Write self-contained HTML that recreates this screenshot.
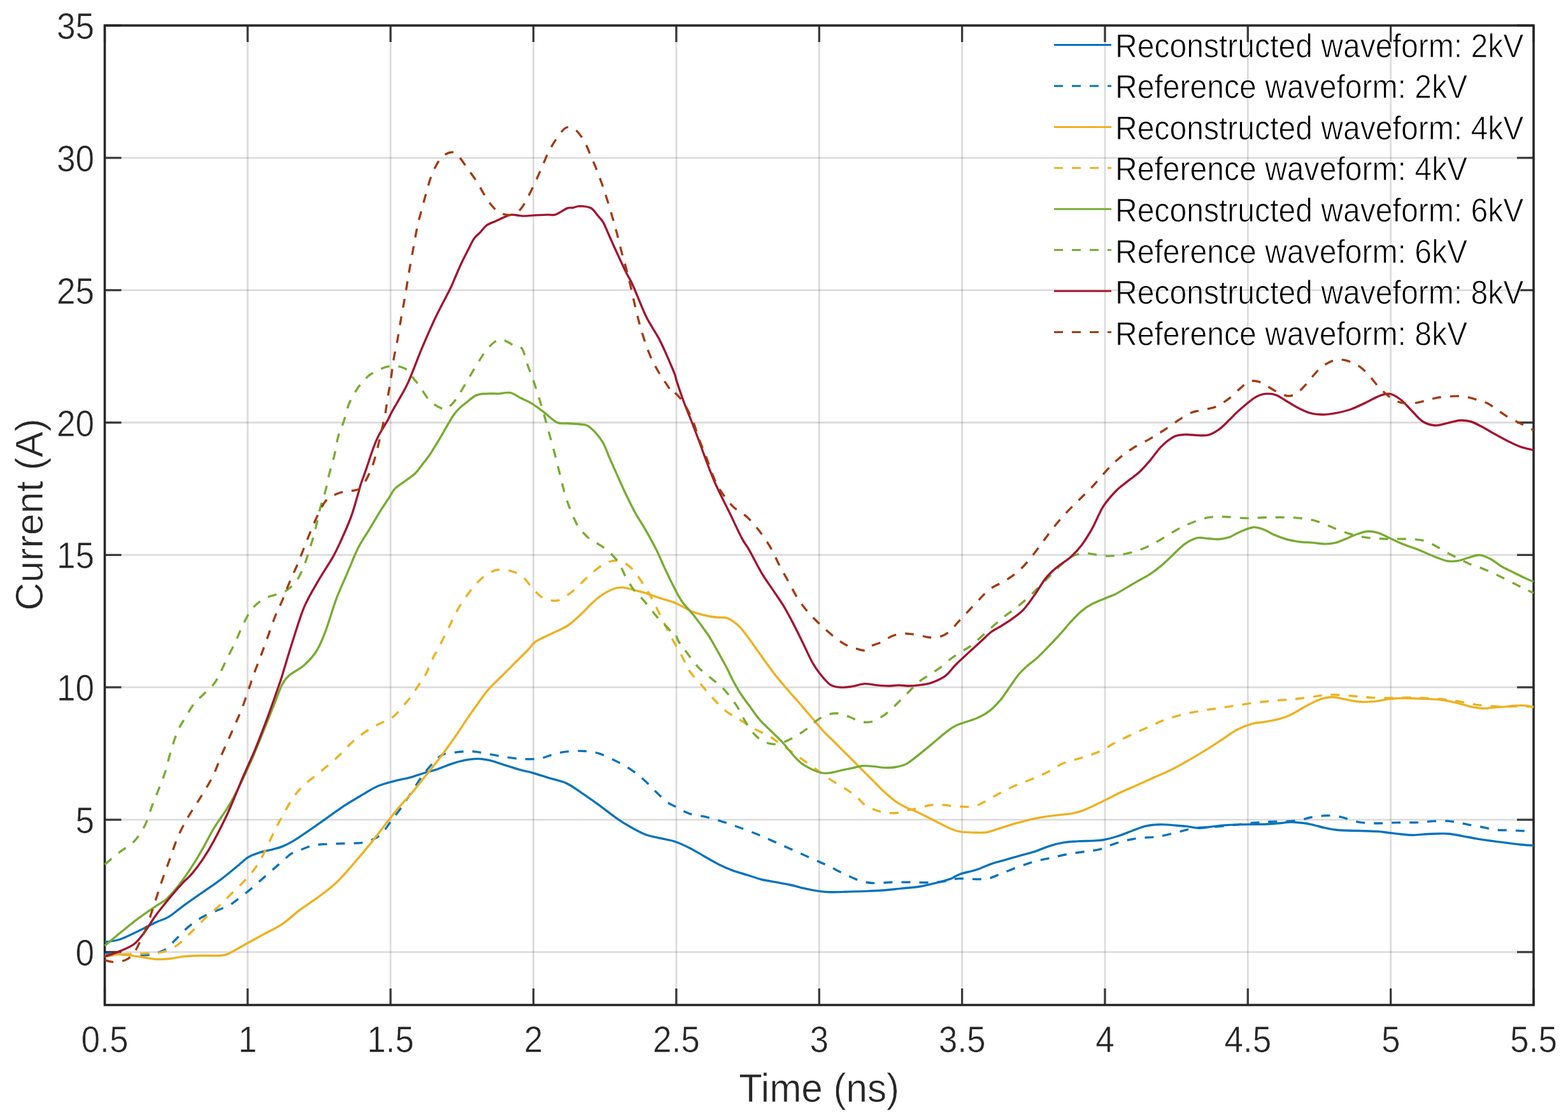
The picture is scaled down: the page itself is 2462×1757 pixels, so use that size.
<!DOCTYPE html>
<html><head><meta charset="utf-8"><title>Current waveforms</title>
<style>html,body{margin:0;padding:0;background:#fff;}svg{display:block;}</style></head>
<body>
<svg width="2462" height="1757" viewBox="0 0 2462 1757">
<rect width="2462" height="1757" fill="#ffffff"/>
<path d="M388.85 40.0V1578.0M613.20 40.0V1578.0M837.55 40.0V1578.0M1061.90 40.0V1578.0M1286.25 40.0V1578.0M1510.60 40.0V1578.0M1734.95 40.0V1578.0M1959.30 40.0V1578.0M2183.65 40.0V1578.0" stroke="#262626" stroke-opacity="0.16" stroke-width="2.8" fill="none"/>
<path d="M164.5 1494.86H2408.0M164.5 1287.03H2408.0M164.5 1079.19H2408.0M164.5 871.35H2408.0M164.5 663.51H2408.0M164.5 455.68H2408.0M164.5 247.84H2408.0" stroke="#262626" stroke-opacity="0.16" stroke-width="2.8" fill="none"/>
<path d="M164.50 1578.0v-26M164.50 40.0v26M388.85 1578.0v-26M388.85 40.0v26M613.20 1578.0v-26M613.20 40.0v26M837.55 1578.0v-26M837.55 40.0v26M1061.90 1578.0v-26M1061.90 40.0v26M1286.25 1578.0v-26M1286.25 40.0v26M1510.60 1578.0v-26M1510.60 40.0v26M1734.95 1578.0v-26M1734.95 40.0v26M1959.30 1578.0v-26M1959.30 40.0v26M2183.65 1578.0v-26M2183.65 40.0v26M2408.00 1578.0v-26M2408.00 40.0v26M164.5 1494.86h26M2408.0 1494.86h-26M164.5 1287.03h26M2408.0 1287.03h-26M164.5 1079.19h26M2408.0 1079.19h-26M164.5 871.35h26M2408.0 871.35h-26M164.5 663.51h26M2408.0 663.51h-26M164.5 455.68h26M2408.0 455.68h-26M164.5 247.84h26M2408.0 247.84h-26M164.5 40.00h26M2408.0 40.00h-26" stroke="#3a3a3a" stroke-width="3.3" fill="none"/>
<rect x="164.5" y="40.0" width="2243.5" height="1538.0" stroke="#262626" stroke-width="3.6" fill="none"/>
<defs><clipPath id="ax"><rect x="162" y="38" width="2248.5" height="1542"/></clipPath></defs><g clip-path="url(#ax)" fill="none" stroke-width="3.4" stroke-linejoin="round">
<path d="M164.5 1479.2C168.5 1478.5 179.6 1477.8 188.3 1475.0C197.0 1472.1 207.2 1466.7 216.7 1462.2C226.1 1457.7 236.9 1451.8 245.0 1448.1C253.0 1444.3 257.7 1443.8 264.8 1439.6C271.9 1435.3 279.0 1428.7 287.5 1422.6C296.0 1416.4 306.3 1409.3 315.8 1402.7C325.2 1396.1 334.7 1390.0 344.1 1382.9C353.6 1375.8 364.9 1366.4 372.4 1360.2C380.0 1354.1 383.8 1349.6 389.4 1346.1C395.1 1342.5 399.8 1341.1 406.4 1339.0C413.0 1336.9 423.0 1335.0 429.1 1333.3C435.2 1331.7 438.1 1331.2 443.3 1329.1C448.4 1327.0 453.2 1324.8 460.2 1320.6C467.3 1316.3 476.8 1309.7 485.7 1303.6C494.7 1297.5 504.6 1290.4 514.1 1283.8C523.5 1277.2 532.9 1270.1 542.4 1263.9C551.8 1257.8 562.2 1251.9 570.7 1246.9C579.2 1242.0 584.7 1237.8 593.4 1234.2C602.0 1230.6 614.5 1227.5 622.7 1225.4C630.8 1223.2 635.4 1223.0 642.5 1221.1C649.6 1219.2 658.1 1216.2 665.1 1214.0C672.2 1211.9 677.9 1210.7 685.0 1208.4C692.1 1206.0 700.6 1202.2 707.6 1199.9C714.7 1197.5 720.4 1195.6 727.5 1194.2C734.5 1192.8 743.0 1191.4 750.1 1191.4C757.2 1191.4 762.9 1192.5 770.0 1194.2C777.0 1195.9 785.1 1198.9 792.6 1201.3C800.2 1203.6 807.7 1206.2 815.3 1208.4C822.8 1210.5 830.4 1211.9 837.9 1214.0C845.5 1216.2 852.1 1218.5 860.6 1221.1C869.1 1223.7 880.4 1225.8 888.9 1229.6C897.4 1233.4 903.1 1238.1 911.6 1243.8C920.1 1249.4 930.5 1256.8 939.9 1263.6C949.3 1270.4 959.7 1278.9 968.2 1284.8C976.7 1290.7 983.3 1294.8 990.9 1299.0C998.4 1303.3 1006.0 1307.5 1013.5 1310.3C1021.1 1313.2 1028.5 1314.1 1036.2 1316.0C1043.9 1317.9 1052.3 1318.9 1060.0 1321.5C1067.7 1324.1 1075.1 1327.6 1082.7 1331.4C1090.2 1335.2 1097.8 1339.9 1105.3 1344.2C1112.9 1348.4 1120.4 1353.1 1128.0 1356.9C1135.5 1360.7 1143.1 1364.0 1150.6 1366.8C1158.2 1369.6 1165.7 1371.5 1173.3 1373.9C1180.9 1376.3 1188.4 1379.1 1196.0 1381.0C1203.5 1382.9 1211.1 1383.8 1218.6 1385.2C1226.2 1386.6 1233.7 1387.8 1241.3 1389.5C1248.8 1391.1 1256.4 1393.5 1263.9 1395.1C1271.5 1396.8 1280.0 1398.4 1286.6 1399.4C1293.2 1400.3 1296.5 1400.7 1303.6 1400.8C1310.7 1400.9 1320.1 1400.5 1329.1 1400.2C1338.1 1400.0 1348.0 1399.8 1357.4 1399.4C1366.9 1399.0 1376.3 1398.7 1385.7 1398.0C1395.2 1397.3 1404.6 1396.1 1414.1 1395.1C1423.5 1394.2 1434.4 1393.5 1442.4 1392.3C1450.4 1391.1 1456.1 1389.5 1462.2 1388.1C1468.4 1386.6 1474.0 1385.2 1479.2 1383.8C1484.4 1382.4 1488.7 1381.4 1493.4 1379.6C1498.1 1377.7 1500.8 1374.8 1507.5 1372.5C1514.3 1370.1 1525.8 1368.1 1534.0 1365.4C1542.2 1362.7 1549.1 1358.9 1556.7 1356.3C1564.2 1353.7 1571.8 1352.0 1579.3 1349.8C1586.9 1347.6 1594.4 1345.4 1602.0 1343.3C1609.5 1341.2 1617.1 1339.5 1624.6 1337.1C1632.2 1334.6 1639.7 1330.9 1647.3 1328.6C1654.8 1326.2 1662.4 1324.2 1670.0 1322.9C1677.5 1321.6 1685.1 1321.4 1692.6 1320.9C1700.2 1320.5 1708.7 1320.5 1715.3 1320.1C1721.9 1319.7 1725.7 1319.8 1732.3 1318.7C1738.9 1317.5 1747.4 1315.4 1754.9 1313.0C1762.5 1310.6 1770.5 1307.1 1777.6 1304.5C1784.7 1301.9 1791.7 1299.0 1797.4 1297.4C1803.1 1295.9 1806.9 1295.6 1811.6 1295.1C1816.3 1294.7 1820.1 1294.4 1825.7 1294.6C1831.4 1294.7 1839.4 1295.5 1845.6 1296.0C1851.7 1296.5 1856.4 1296.7 1862.6 1297.4C1868.7 1298.1 1876.7 1300.0 1882.4 1300.2C1888.1 1300.5 1891.4 1299.4 1896.6 1298.8C1901.7 1298.2 1907.4 1297.2 1913.5 1296.6C1919.7 1296.0 1924.5 1295.5 1933.4 1295.1C1942.3 1294.8 1958.6 1294.4 1967.0 1294.2C1975.4 1294.1 1977.4 1294.5 1984.0 1294.2C1990.6 1294.0 1999.6 1293.4 2006.7 1292.8C2013.7 1292.3 2020.3 1291.0 2026.5 1290.8C2032.6 1290.7 2037.8 1291.3 2043.5 1292.0C2049.1 1292.6 2054.3 1293.5 2060.5 1294.8C2066.6 1296.1 2073.7 1298.5 2080.3 1299.9C2086.9 1301.3 2093.5 1302.6 2100.1 1303.3C2106.7 1304.0 2112.9 1303.9 2120.0 1304.2C2127.0 1304.4 2135.1 1304.5 2142.6 1304.7C2150.2 1305.0 2158.7 1305.0 2165.3 1305.6C2171.9 1306.1 2176.6 1307.1 2182.3 1307.8C2187.9 1308.5 2193.1 1309.2 2199.3 1309.8C2205.4 1310.4 2212.5 1311.2 2219.1 1311.2C2225.7 1311.2 2232.3 1310.2 2238.9 1309.8C2245.5 1309.4 2252.6 1309.1 2258.7 1309.0C2264.9 1308.9 2269.6 1308.6 2275.7 1309.2C2281.9 1309.9 2288.5 1311.4 2295.6 1312.6C2302.6 1313.9 2310.7 1315.6 2318.2 1316.9C2325.8 1318.2 2333.3 1319.3 2340.9 1320.3C2348.4 1321.3 2356.0 1322.2 2363.5 1323.1C2371.1 1324.1 2378.8 1325.2 2386.2 1326.0C2393.6 1326.7 2404.4 1327.4 2408.0 1327.7" stroke="#0072BD"/>
<path d="M164.5 1497.6C168.5 1497.9 177.3 1498.7 188.3 1499.0C199.4 1499.4 220.4 1500.3 230.8 1499.6C241.2 1498.9 245.4 1496.5 250.6 1494.8C255.8 1493.0 258.2 1492.0 262.0 1489.1C265.7 1486.3 267.6 1483.5 273.3 1477.8C279.0 1472.1 288.4 1461.5 296.0 1455.1C303.5 1448.8 310.6 1444.0 318.6 1439.6C326.6 1435.1 337.5 1431.1 344.1 1428.2C350.7 1425.4 353.6 1425.2 358.3 1422.6C363.0 1420.0 366.8 1416.9 372.4 1412.6C378.1 1408.4 385.2 1403.0 392.3 1397.1C399.3 1391.2 407.4 1383.9 414.9 1377.2C422.5 1370.6 430.5 1363.6 437.6 1357.4C444.7 1351.3 451.7 1344.2 457.4 1340.4C463.1 1336.6 466.9 1336.6 471.6 1334.8C476.3 1332.9 481.0 1330.5 485.7 1329.1C490.5 1327.7 492.8 1327.0 499.9 1326.3C507.0 1325.5 518.8 1325.2 528.2 1324.8C537.7 1324.5 549.5 1324.3 556.6 1324.0C563.6 1323.7 566.0 1323.8 570.7 1322.9C575.4 1321.9 580.2 1320.6 584.9 1318.3C589.6 1316.1 594.2 1314.1 599.0 1309.3C603.9 1304.4 608.8 1296.2 614.2 1289.1C619.5 1281.9 625.5 1274.5 631.2 1266.4C636.8 1258.4 642.5 1249.4 648.2 1240.9C653.8 1232.4 659.0 1223.5 665.1 1215.4C671.3 1207.4 679.8 1198.0 685.0 1192.8C690.2 1187.6 691.6 1186.2 696.3 1184.3C701.0 1182.4 706.7 1182.3 713.3 1181.5C719.9 1180.7 729.8 1179.6 736.0 1179.5C742.1 1179.4 744.5 1180.1 750.1 1180.9C755.8 1181.7 762.9 1183.0 770.0 1184.3C777.0 1185.6 785.1 1187.4 792.6 1188.5C800.2 1189.7 808.2 1190.8 815.3 1191.4C822.4 1191.9 829.0 1192.2 835.1 1191.9C841.2 1191.7 846.4 1191.2 852.1 1190.0C857.8 1188.7 863.4 1185.8 869.1 1184.3C874.8 1182.7 879.9 1181.5 886.1 1180.6C892.2 1179.8 900.2 1179.4 905.9 1179.2C911.6 1179.0 914.4 1178.9 920.1 1179.5C925.7 1180.1 932.8 1180.7 939.9 1182.9C947.0 1185.1 956.0 1189.7 962.6 1192.8C969.2 1195.9 973.9 1198.0 979.6 1201.3C985.2 1204.6 990.9 1208.4 996.6 1212.6C1002.2 1216.9 1007.9 1221.6 1013.5 1226.8C1019.2 1232.0 1024.9 1238.3 1030.5 1243.8C1036.2 1249.2 1042.6 1255.6 1047.5 1259.3C1052.4 1263.1 1054.1 1263.2 1060.0 1266.3C1065.9 1269.3 1074.2 1274.8 1082.7 1277.6C1091.2 1280.4 1101.5 1280.9 1111.0 1283.3C1120.4 1285.6 1129.9 1288.7 1139.3 1291.7C1148.8 1294.8 1158.7 1298.4 1167.6 1301.7C1176.6 1305.0 1184.6 1308.0 1193.1 1311.6C1201.6 1315.1 1210.1 1319.1 1218.6 1322.9C1227.1 1326.7 1235.1 1330.2 1244.1 1334.2C1253.1 1338.2 1263.5 1343.0 1272.4 1347.0C1281.4 1351.0 1289.4 1354.3 1297.9 1358.3C1306.4 1362.3 1314.9 1367.0 1323.4 1371.1C1331.9 1375.1 1340.9 1379.8 1348.9 1382.4C1356.9 1385.0 1363.1 1386.2 1371.6 1386.6C1380.1 1387.1 1390.5 1385.5 1399.9 1385.2C1409.3 1385.0 1419.7 1385.1 1428.2 1385.2C1436.7 1385.3 1443.8 1385.8 1450.9 1385.8C1458.0 1385.8 1464.1 1385.8 1470.7 1385.2C1477.3 1384.7 1484.9 1383.3 1490.5 1382.4C1496.2 1381.4 1498.4 1379.9 1504.7 1379.6C1511.0 1379.2 1520.6 1380.4 1528.3 1380.4C1536.0 1380.4 1543.4 1381.1 1551.0 1379.6C1558.5 1378.0 1565.6 1374.1 1573.6 1371.1C1581.7 1368.0 1590.6 1364.2 1599.1 1361.1C1607.6 1358.1 1616.1 1355.0 1624.6 1352.6C1633.1 1350.3 1641.6 1348.9 1650.1 1347.0C1658.6 1345.1 1666.6 1343.0 1675.6 1341.3C1684.6 1339.7 1695.4 1338.3 1703.9 1337.1C1712.4 1335.8 1720.0 1335.3 1726.6 1333.7C1733.2 1332.0 1737.0 1329.4 1743.6 1327.2C1750.2 1324.9 1758.7 1322.0 1766.3 1320.1C1773.8 1318.2 1781.4 1316.8 1788.9 1315.8C1796.5 1314.9 1805.0 1315.1 1811.6 1314.4C1818.2 1313.7 1821.5 1313.1 1828.6 1311.6C1835.7 1310.1 1847.5 1307.0 1854.1 1305.3C1860.7 1303.7 1864.0 1302.6 1868.2 1301.7C1872.5 1300.7 1874.8 1300.2 1879.6 1299.7C1884.3 1299.2 1889.0 1299.3 1896.6 1298.8C1904.1 1298.4 1913.1 1298.0 1924.9 1296.8C1936.6 1295.7 1955.7 1293.1 1967.0 1292.0C1978.3 1290.9 1983.0 1290.7 1992.5 1290.3C2001.9 1289.8 2015.1 1289.9 2023.6 1289.4C2032.1 1288.9 2037.8 1288.1 2043.5 1287.2C2049.1 1286.2 2052.0 1284.5 2057.6 1283.5C2063.3 1282.4 2072.3 1281.4 2077.5 1280.9C2082.7 1280.5 2084.1 1280.3 2088.8 1280.6C2093.5 1281.0 2100.6 1281.8 2105.8 1282.9C2111.0 1284.0 2114.8 1285.7 2120.0 1287.2C2125.1 1288.6 2130.3 1290.5 2136.9 1291.4C2143.6 1292.3 2152.1 1292.7 2159.6 1292.8C2167.2 1292.9 2174.7 1292.2 2182.3 1292.0C2189.8 1291.7 2197.4 1291.5 2204.9 1291.4C2212.5 1291.3 2220.0 1291.7 2227.6 1291.4C2235.1 1291.1 2242.7 1289.8 2250.2 1289.4C2257.8 1289.0 2266.3 1288.8 2272.9 1289.1C2279.5 1289.5 2284.2 1290.4 2289.9 1291.4C2295.6 1292.4 2300.8 1293.9 2306.9 1295.1C2313.0 1296.3 2320.1 1297.2 2326.7 1298.5C2333.3 1299.8 2339.9 1301.9 2346.6 1302.7C2353.2 1303.6 2359.8 1303.3 2366.4 1303.6C2373.0 1303.9 2380.5 1304.2 2386.2 1304.4C2391.9 1304.7 2396.7 1304.9 2400.4 1305.0C2404.0 1305.1 2406.7 1305.0 2408.0 1305.0" stroke="#0072BD" stroke-dasharray="14 14"/>
<path d="M164.5 1500.5C168.5 1500.1 179.6 1498.2 188.3 1498.5C197.0 1498.7 207.2 1500.6 216.7 1501.9C226.1 1503.1 236.5 1505.6 245.0 1506.1C253.5 1506.7 260.6 1506.0 267.6 1505.3C274.7 1504.6 279.4 1502.7 287.5 1501.9C295.5 1501.1 306.3 1500.7 315.8 1500.5C325.2 1500.2 337.0 1500.9 344.1 1500.5C351.2 1500.0 351.2 1500.7 358.3 1497.6C365.4 1494.6 377.2 1487.2 386.6 1482.0C396.0 1476.9 405.5 1471.7 414.9 1466.5C424.4 1461.3 433.8 1457.3 443.3 1450.9C452.7 1444.5 462.1 1435.3 471.6 1428.2C481.0 1421.1 490.5 1415.5 499.9 1408.4C509.3 1401.3 518.8 1394.7 528.2 1385.7C537.7 1376.8 547.1 1365.4 556.6 1354.6C566.0 1343.7 573.9 1334.3 584.9 1320.6C595.9 1306.8 612.6 1284.4 622.7 1272.1C632.7 1259.8 637.8 1255.6 645.3 1246.6C652.9 1237.6 660.4 1227.7 668.0 1218.3C675.5 1208.8 683.1 1199.9 690.6 1190.0C698.2 1180.0 706.2 1168.9 713.3 1158.8C720.4 1148.6 727.0 1138.0 733.1 1129.1C739.3 1120.1 744.5 1112.8 750.1 1105.0C755.8 1097.2 761.0 1089.4 767.1 1082.3C773.3 1075.2 779.9 1069.6 786.9 1062.5C794.0 1055.4 802.5 1046.9 809.6 1039.8C816.7 1032.7 824.2 1025.4 829.4 1020.0C834.6 1014.6 834.2 1012.0 840.8 1007.5C847.4 1003.1 860.6 997.6 869.1 993.4C877.6 989.1 884.7 986.8 891.7 982.0C898.8 977.3 905.4 970.7 911.6 965.0C917.7 959.4 922.9 953.2 928.6 948.1C934.2 942.9 939.4 937.9 945.6 933.9C951.7 929.9 959.7 925.9 965.4 924.0C971.1 922.1 974.4 922.1 979.6 922.6C984.7 923.0 990.9 925.4 996.6 926.8C1002.2 928.2 1007.4 929.2 1013.5 931.1C1019.7 932.9 1027.7 936.3 1033.4 938.1C1039.0 940.0 1043.1 941.0 1047.5 942.4C1052.0 943.8 1055.6 944.7 1060.0 946.6C1064.4 948.5 1069.4 951.4 1074.2 953.7C1078.9 956.1 1082.7 958.7 1088.3 960.8C1094.0 962.9 1102.0 965.0 1108.2 966.5C1114.3 967.9 1119.5 968.6 1125.1 969.3C1130.8 970.0 1136.5 968.6 1142.1 970.7C1147.8 972.8 1153.9 977.3 1159.1 982.0C1164.3 986.8 1165.7 989.0 1173.3 999.0C1180.9 1009.1 1196.4 1031.5 1204.5 1042.5C1212.5 1053.5 1215.8 1058.1 1221.5 1065.1C1227.1 1072.2 1232.3 1077.9 1238.4 1085.0C1244.6 1092.1 1252.1 1100.6 1258.3 1107.6C1264.4 1114.7 1269.6 1120.9 1275.3 1127.5C1280.9 1134.1 1286.6 1141.2 1292.3 1147.3C1297.9 1153.4 1303.6 1158.6 1309.3 1164.3C1314.9 1170.0 1320.6 1175.6 1326.3 1181.3C1331.9 1186.9 1338.1 1193.1 1343.3 1198.3C1348.4 1203.5 1352.7 1207.7 1357.4 1212.4C1362.1 1217.2 1366.4 1221.4 1371.6 1226.6C1376.8 1231.8 1382.9 1238.4 1388.6 1243.6C1394.2 1248.8 1399.9 1253.7 1405.6 1257.8C1411.2 1261.8 1416.9 1264.8 1422.6 1267.7C1428.2 1270.5 1433.9 1272.2 1439.6 1274.8C1445.2 1277.4 1450.9 1280.4 1456.6 1283.3C1462.2 1286.1 1467.9 1288.9 1473.5 1291.7C1479.2 1294.6 1484.9 1297.9 1490.5 1300.2C1496.2 1302.6 1500.3 1304.7 1507.5 1305.9C1514.8 1307.1 1526.7 1307.2 1534.0 1307.3C1541.2 1307.4 1544.8 1307.7 1551.0 1306.5C1557.1 1305.3 1562.8 1302.7 1570.8 1300.2C1578.8 1297.8 1589.7 1294.3 1599.1 1291.7C1608.6 1289.2 1618.0 1286.6 1627.5 1284.7C1636.9 1282.8 1646.8 1281.6 1655.8 1280.4C1664.8 1279.2 1674.2 1278.8 1681.3 1277.6C1688.4 1276.4 1691.7 1275.7 1698.3 1273.3C1704.9 1271.0 1713.9 1266.7 1720.9 1263.4C1728.0 1260.1 1734.2 1256.8 1740.8 1253.5C1747.4 1250.2 1753.5 1246.9 1760.6 1243.6C1767.7 1240.3 1774.8 1237.5 1783.3 1233.7C1791.7 1229.9 1802.1 1225.2 1811.6 1220.9C1821.0 1216.7 1830.5 1212.9 1839.9 1208.2C1849.3 1203.5 1858.8 1198.0 1868.2 1192.6C1877.7 1187.2 1887.1 1181.5 1896.6 1175.6C1906.0 1169.7 1917.3 1162.2 1924.9 1157.2C1932.4 1152.2 1934.9 1149.4 1941.9 1145.9C1948.9 1142.4 1959.5 1138.3 1967.0 1136.2C1974.5 1134.1 1980.2 1134.5 1986.8 1133.3C1993.4 1132.2 2000.5 1131.0 2006.7 1129.4C2012.8 1127.8 2018.0 1126.2 2023.6 1123.7C2029.3 1121.2 2035.0 1117.5 2040.6 1114.4C2046.3 1111.3 2052.0 1107.9 2057.6 1105.0C2063.3 1102.2 2069.0 1099.1 2074.6 1097.4C2080.3 1095.6 2086.0 1094.5 2091.6 1094.5C2097.3 1094.5 2103.0 1096.3 2108.6 1097.4C2114.3 1098.4 2120.0 1100.0 2125.6 1100.8C2131.3 1101.6 2136.9 1102.1 2142.6 1102.2C2148.3 1102.2 2153.9 1101.7 2159.6 1101.1C2165.3 1100.4 2170.9 1099.0 2176.6 1098.2C2182.3 1097.5 2187.0 1096.8 2193.6 1096.5C2200.2 1096.2 2208.7 1096.4 2216.3 1096.5C2223.8 1096.7 2231.4 1097.0 2238.9 1097.4C2246.5 1097.8 2255.0 1098.1 2261.6 1098.8C2268.2 1099.5 2272.9 1100.4 2278.6 1101.6C2284.2 1102.8 2289.9 1104.5 2295.6 1105.9C2301.2 1107.3 2306.9 1109.0 2312.6 1110.1C2318.2 1111.2 2323.9 1112.3 2329.6 1112.4C2335.2 1112.5 2340.9 1111.2 2346.6 1110.7C2352.2 1110.2 2357.9 1110.0 2363.5 1109.6C2369.2 1109.1 2375.3 1108.1 2380.5 1107.9C2385.7 1107.6 2390.1 1107.5 2394.7 1107.9C2399.3 1108.2 2405.8 1109.7 2408.0 1110.1" stroke="#EDB120"/>
<path d="M164.5 1501.9C168.5 1501.4 179.6 1499.7 188.3 1499.0C197.0 1498.3 207.2 1498.1 216.7 1497.6C226.1 1497.2 237.9 1496.9 245.0 1496.2C252.1 1495.5 253.5 1495.5 259.1 1493.4C264.8 1491.2 271.9 1488.7 279.0 1483.5C286.0 1478.3 294.1 1469.5 301.6 1462.2C309.2 1454.9 317.2 1446.2 324.3 1439.6C331.4 1432.9 337.5 1428.7 344.1 1422.6C350.7 1416.4 356.9 1409.8 363.9 1402.7C371.0 1395.7 379.5 1388.1 386.6 1380.1C393.7 1372.0 400.3 1364.5 406.4 1354.6C412.6 1344.7 417.8 1331.9 423.4 1320.6C429.1 1309.3 434.3 1297.9 440.4 1286.6C446.6 1275.3 454.1 1261.6 460.2 1252.6C466.4 1243.6 470.6 1239.2 477.2 1232.8C483.9 1226.4 491.4 1221.5 499.9 1214.4C508.4 1207.3 518.8 1199.0 528.2 1190.3C537.7 1181.6 547.1 1170.0 556.6 1162.0C566.0 1153.9 576.2 1147.4 584.9 1142.1C593.5 1136.9 602.7 1133.6 608.5 1130.5C614.3 1127.3 616.1 1126.7 619.8 1123.4C623.6 1120.1 626.9 1115.6 631.2 1110.6C635.4 1105.7 641.1 1099.3 645.3 1093.6C649.6 1088.0 652.9 1082.3 656.7 1076.7C660.4 1071.0 663.7 1067.7 668.0 1059.7C672.2 1051.6 679.3 1034.4 682.1 1028.5C685.0 1022.6 683.6 1026.8 685.0 1024.2C686.4 1021.7 687.3 1019.8 690.6 1013.2C693.9 1006.6 700.1 994.3 704.8 984.9C709.5 975.4 713.8 965.5 719.0 956.6C724.2 947.6 730.3 938.6 736.0 931.1C741.6 923.5 747.3 916.7 753.0 911.2C758.6 905.8 764.8 901.3 770.0 898.5C775.1 895.7 778.4 894.5 784.1 894.2C789.8 894.0 797.8 895.2 803.9 897.1C810.1 899.0 815.7 901.3 820.9 905.6C826.1 909.8 830.4 917.4 835.1 922.6C839.8 927.8 844.5 933.4 849.3 936.7C854.0 940.0 858.7 941.4 863.4 942.4C868.1 943.3 872.9 943.8 877.6 942.4C882.3 941.0 887.0 937.2 891.7 933.9C896.5 930.6 900.7 927.3 905.9 922.6C911.1 917.8 917.2 910.8 922.9 905.6C928.6 900.4 934.7 895.2 939.9 891.4C945.1 887.6 949.3 884.8 954.1 882.9C958.8 881.0 964.0 880.1 968.2 880.1C972.5 880.1 975.3 880.5 979.6 882.9C983.8 885.3 989.9 890.5 993.7 894.2C997.5 898.0 998.9 900.8 1002.2 905.6C1005.5 910.3 1009.8 916.4 1013.5 922.6C1017.3 928.7 1021.6 936.3 1024.9 942.4C1028.2 948.5 1030.5 953.7 1033.4 959.4C1036.2 965.0 1038.6 969.8 1041.9 976.4C1045.2 983.0 1048.3 989.9 1053.2 999.0C1058.1 1008.2 1066.4 1022.0 1071.3 1031.2C1076.2 1040.3 1077.9 1046.7 1082.7 1053.8C1087.4 1060.9 1094.0 1067.0 1099.7 1073.6C1105.3 1080.3 1110.0 1086.4 1116.7 1093.5C1123.3 1100.6 1131.8 1110.0 1139.3 1116.1C1146.9 1122.3 1154.4 1125.6 1162.0 1130.3C1169.5 1135.0 1177.1 1140.2 1184.6 1144.5C1192.2 1148.7 1200.7 1152.0 1207.3 1155.8C1213.9 1159.6 1218.1 1162.9 1224.3 1167.1C1230.4 1171.4 1237.5 1176.6 1244.1 1181.3C1250.7 1186.0 1257.3 1190.7 1263.9 1195.4C1270.6 1200.2 1277.2 1204.9 1283.8 1209.6C1290.4 1214.3 1296.5 1219.0 1303.6 1223.8C1310.7 1228.5 1319.6 1233.7 1326.3 1237.9C1332.9 1242.2 1338.1 1245.0 1343.3 1249.3C1348.4 1253.5 1352.2 1259.6 1357.4 1263.4C1362.6 1267.2 1368.7 1269.8 1374.4 1271.9C1380.1 1274.0 1385.7 1275.5 1391.4 1276.2C1397.1 1276.9 1402.7 1276.9 1408.4 1276.2C1414.1 1275.5 1419.7 1273.1 1425.4 1271.9C1431.1 1270.7 1436.3 1270.4 1442.4 1269.1C1448.5 1267.8 1455.6 1264.8 1462.2 1264.0C1468.8 1263.1 1475.4 1263.6 1482.0 1264.0C1488.7 1264.4 1494.2 1265.9 1501.9 1266.3C1509.6 1266.6 1521.1 1267.4 1528.3 1266.3C1535.6 1265.1 1538.7 1262.5 1545.3 1259.2C1551.9 1255.9 1560.0 1250.7 1568.0 1246.4C1576.0 1242.2 1585.0 1237.5 1593.5 1233.7C1602.0 1229.9 1610.5 1227.3 1619.0 1223.8C1627.5 1220.2 1636.0 1216.7 1644.5 1212.4C1653.0 1208.2 1661.0 1202.1 1670.0 1198.3C1678.9 1194.5 1688.8 1192.8 1698.3 1189.8C1707.7 1186.7 1718.1 1183.6 1726.6 1179.9C1735.1 1176.1 1741.2 1171.4 1749.3 1167.1C1757.3 1162.9 1765.8 1158.6 1774.8 1154.4C1783.7 1150.1 1794.1 1145.6 1803.1 1141.6C1812.0 1137.6 1819.6 1133.6 1828.6 1130.3C1837.5 1127.0 1847.5 1124.2 1856.9 1121.8C1866.3 1119.4 1875.8 1117.8 1885.2 1116.1C1894.7 1114.5 1904.1 1113.3 1913.5 1111.9C1923.0 1110.5 1932.0 1109.1 1941.9 1107.6C1951.7 1106.2 1962.8 1104.3 1972.7 1103.0C1982.5 1101.8 1991.5 1101.1 2001.0 1100.2C2010.4 1099.4 2019.9 1098.9 2029.3 1097.9C2038.8 1097.0 2049.6 1095.6 2057.6 1094.5C2065.7 1093.5 2071.3 1092.3 2077.5 1091.7C2083.6 1091.1 2088.3 1090.8 2094.5 1090.9C2100.6 1090.9 2107.7 1091.5 2114.3 1092.0C2120.9 1092.5 2127.5 1093.1 2134.1 1093.7C2140.7 1094.3 2146.9 1095.0 2153.9 1095.4C2161.0 1095.8 2169.0 1096.0 2176.6 1096.0C2184.2 1096.0 2191.7 1095.5 2199.3 1095.4C2206.8 1095.3 2214.4 1095.2 2221.9 1095.4C2229.5 1095.6 2238.0 1096.2 2244.6 1096.5C2251.2 1096.9 2256.4 1096.9 2261.6 1097.4C2266.8 1097.8 2270.5 1098.7 2275.7 1099.4C2280.9 1100.1 2287.1 1100.7 2292.7 1101.6C2298.4 1102.6 2304.5 1104.1 2309.7 1105.0C2314.9 1106.0 2318.7 1106.7 2323.9 1107.3C2329.1 1107.9 2335.2 1108.3 2340.9 1108.7C2346.6 1109.1 2352.2 1109.5 2357.9 1109.6C2363.5 1109.7 2369.2 1109.4 2374.9 1109.3C2380.5 1109.2 2386.4 1108.8 2391.9 1109.0C2397.4 1109.1 2405.3 1109.9 2408.0 1110.1" stroke="#EDB120" stroke-dasharray="14 14"/>
<path d="M164.5 1484.9C168.5 1481.6 179.6 1472.1 188.3 1465.0C197.0 1458.0 207.2 1449.5 216.7 1442.4C226.1 1435.3 237.4 1427.8 245.0 1422.6C252.5 1417.4 255.8 1416.9 262.0 1411.2C268.1 1405.6 275.2 1397.1 281.8 1388.6C288.4 1380.1 295.5 1369.7 301.6 1360.2C307.8 1350.8 313.0 1341.8 318.6 1331.9C324.3 1322.0 329.0 1311.6 335.6 1300.8C342.2 1289.9 351.7 1277.6 358.3 1266.8C364.9 1255.9 369.1 1247.9 375.3 1235.6C381.4 1223.3 388.5 1208.2 395.1 1193.1C401.7 1178.0 408.8 1160.1 414.9 1145.0C421.1 1129.9 427.2 1114.3 431.9 1102.5C436.6 1090.7 439.5 1081.2 443.3 1074.2C447.0 1067.1 448.9 1064.9 454.6 1060.0C460.2 1055.1 470.2 1051.0 477.2 1044.7C484.3 1038.4 491.4 1031.0 497.1 1022.0C502.7 1013.1 506.0 1004.6 511.2 990.9C516.4 977.2 522.6 955.0 528.2 939.9C533.9 924.8 539.6 913.5 545.2 900.2C550.9 887.0 556.6 871.9 562.2 860.6C567.9 849.3 573.5 841.7 579.2 832.3C584.9 822.8 592.7 809.7 596.2 803.9C599.7 798.2 597.5 801.8 600.0 797.9C602.5 794.1 608.0 786.0 611.3 780.9C614.7 775.8 615.9 771.6 620.0 767.3C624.1 763.0 630.7 759.3 636.0 755.3C641.4 751.3 647.4 747.8 652.0 743.3C656.7 738.7 660.3 732.9 664.0 728.1C667.8 723.3 671.1 719.3 674.4 714.5C677.8 709.7 680.8 704.5 684.1 699.2C687.3 694.0 690.5 688.7 693.7 683.2C696.9 677.8 700.2 671.6 703.3 666.4C706.3 661.2 709.3 656.0 712.1 652.0C714.9 648.0 717.0 645.5 720.0 642.4C723.0 639.3 725.7 637.2 730.3 633.6C734.8 630.1 741.6 623.5 747.3 620.9C753.0 618.3 758.1 618.5 764.3 618.1C770.4 617.6 778.0 618.3 784.1 618.1C790.3 617.8 795.4 615.5 801.1 616.7C806.8 617.8 812.4 622.3 818.1 625.1C823.8 628.0 829.0 629.9 835.1 633.6C841.2 637.4 848.3 642.9 854.9 647.8C861.5 652.8 868.6 660.6 874.8 663.4C880.9 666.2 885.6 664.3 891.7 664.8C897.9 665.3 905.9 665.3 911.6 666.2C917.2 667.2 920.1 666.0 925.7 670.5C931.4 675.0 940.4 685.1 945.6 693.1C950.8 701.2 953.1 710.1 956.9 718.6C960.7 727.1 964.0 734.7 968.2 744.1C972.5 753.6 977.7 765.4 982.4 775.3C987.1 785.2 991.4 794.2 996.6 803.6C1001.7 813.0 1007.9 822.0 1013.5 831.9C1019.2 841.8 1025.3 852.7 1030.5 863.1C1035.7 873.5 1039.8 883.9 1044.7 894.2C1049.6 904.6 1055.6 916.9 1060.0 925.4C1064.4 933.9 1066.6 938.6 1071.3 945.2C1076.1 951.8 1082.7 958.0 1088.3 965.0C1094.0 972.1 1100.6 981.1 1105.3 987.7C1110.0 994.3 1111.0 995.1 1116.7 1004.7C1122.3 1014.3 1133.6 1034.8 1139.3 1045.3C1145.0 1055.9 1146.9 1060.9 1150.6 1068.0C1154.4 1075.1 1157.7 1081.2 1162.0 1087.8C1166.2 1094.4 1170.9 1100.6 1176.1 1107.6C1181.3 1114.7 1187.0 1123.2 1193.1 1130.3C1199.3 1137.4 1206.8 1144.0 1213.0 1150.1C1219.1 1156.3 1224.8 1161.5 1230.0 1167.1C1235.1 1172.8 1239.4 1178.9 1244.1 1184.1C1248.8 1189.3 1253.1 1194.3 1258.3 1198.3C1263.5 1202.3 1269.6 1205.6 1275.3 1208.2C1280.9 1210.8 1287.1 1213.1 1292.3 1213.9C1297.5 1214.7 1301.7 1213.7 1306.4 1213.0C1311.1 1212.3 1315.4 1210.7 1320.6 1209.6C1325.8 1208.5 1331.9 1207.4 1337.6 1206.2C1343.3 1205.0 1348.9 1203.0 1354.6 1202.5C1360.2 1202.1 1365.9 1202.9 1371.6 1203.4C1377.2 1203.8 1382.9 1205.2 1388.6 1205.4C1394.2 1205.5 1399.9 1205.5 1405.6 1204.5C1411.2 1203.6 1417.4 1202.1 1422.6 1199.7C1427.8 1197.2 1432.0 1193.3 1436.7 1189.8C1441.4 1186.2 1445.7 1182.7 1450.9 1178.4C1456.1 1174.2 1462.2 1169.0 1467.9 1164.3C1473.5 1159.6 1479.2 1154.4 1484.9 1150.1C1490.5 1145.9 1493.7 1142.6 1501.9 1138.8C1510.1 1135.0 1525.3 1131.2 1534.0 1127.5C1542.6 1123.7 1547.7 1120.9 1553.8 1116.1C1560.0 1111.4 1565.6 1105.3 1570.8 1099.1C1576.0 1093.0 1580.3 1085.9 1585.0 1079.3C1589.7 1072.7 1594.4 1065.1 1599.1 1059.5C1603.9 1053.8 1608.1 1050.0 1613.3 1045.3C1618.5 1040.6 1622.3 1038.9 1630.3 1031.2C1638.3 1023.4 1653.0 1008.2 1661.5 999.0C1670.0 989.9 1675.1 983.0 1681.3 976.4C1687.4 969.8 1692.6 964.1 1698.3 959.4C1703.9 954.7 1709.1 951.4 1715.3 948.1C1721.4 944.7 1729.0 942.2 1735.1 939.6C1741.2 937.0 1746.4 935.3 1752.1 932.5C1757.8 929.6 1763.4 925.9 1769.1 922.6C1774.8 919.3 1779.9 916.2 1786.1 912.6C1792.2 909.1 1799.8 905.3 1805.9 901.3C1812.0 897.3 1817.2 893.3 1822.9 888.6C1828.6 883.9 1833.8 878.7 1839.9 873.0C1846.0 867.3 1853.1 859.3 1859.7 854.6C1866.3 849.9 1873.4 846.2 1879.6 844.7C1885.7 843.2 1890.9 845.2 1896.6 845.5C1902.2 845.8 1907.9 847.0 1913.5 846.7C1919.2 846.3 1925.3 845.0 1930.5 843.3C1935.7 841.5 1938.6 838.7 1944.7 836.2C1950.8 833.6 1960.4 828.8 1967.0 828.0C1973.5 827.2 1978.3 829.4 1984.0 831.4C1989.7 833.4 1994.8 837.3 2001.0 839.9C2007.1 842.5 2014.2 845.2 2020.8 847.0C2027.4 848.8 2034.0 849.8 2040.6 850.7C2047.2 851.5 2053.9 851.5 2060.5 852.1C2067.1 852.6 2074.2 854.1 2080.3 854.1C2086.4 854.1 2091.6 853.5 2097.3 852.1C2103.0 850.7 2108.6 847.8 2114.3 845.6C2120.0 843.3 2125.6 840.4 2131.3 838.5C2136.9 836.6 2142.6 834.5 2148.3 834.2C2153.9 834.0 2159.6 835.3 2165.3 837.1C2170.9 838.9 2176.1 842.2 2182.3 845.0C2188.4 847.8 2195.5 851.4 2202.1 854.1C2208.7 856.8 2215.8 858.8 2221.9 861.1C2228.1 863.5 2233.3 865.9 2238.9 868.2C2244.6 870.6 2250.2 873.2 2255.9 875.3C2261.6 877.4 2267.2 880.1 2272.9 881.0C2278.6 881.8 2284.2 881.4 2289.9 880.4C2295.6 879.5 2301.2 876.8 2306.9 875.3C2312.6 873.8 2318.2 871.2 2323.9 871.6C2329.6 872.1 2335.2 875.2 2340.9 878.1C2346.6 881.1 2352.2 886.2 2357.9 889.5C2363.5 892.8 2369.2 895.1 2374.9 898.0C2380.5 900.8 2386.4 903.9 2391.9 906.5C2397.4 909.1 2405.3 912.4 2408.0 913.5" stroke="#77AC30"/>
<path d="M164.5 1357.4C168.5 1354.1 180.6 1343.7 188.3 1337.6C196.1 1331.4 204.4 1327.7 211.0 1320.6C217.6 1313.5 223.3 1304.5 228.0 1295.1C232.7 1285.7 235.5 1273.9 239.3 1263.9C243.1 1254.0 247.3 1244.1 250.6 1235.6C253.9 1227.1 256.3 1221.9 259.1 1213.0C262.0 1204.0 264.3 1192.7 267.6 1181.8C270.9 1170.9 275.2 1156.8 279.0 1147.8C282.7 1138.8 286.0 1135.1 290.3 1128.0C294.5 1120.9 299.3 1111.9 304.5 1105.3C309.7 1098.7 316.3 1093.5 321.5 1088.3C326.6 1083.1 331.8 1078.9 335.6 1074.2C339.4 1069.4 340.8 1066.3 344.1 1060.0C347.4 1053.7 351.2 1044.9 355.4 1036.2C359.7 1027.5 365.4 1016.9 369.6 1007.9C373.9 998.9 376.7 990.9 380.9 982.4C385.2 973.9 389.4 964.0 395.1 956.9C400.8 949.8 407.4 944.2 414.9 939.9C422.5 935.7 434.3 933.8 440.4 931.4C446.6 929.0 447.5 929.0 451.7 925.7C456.0 922.4 461.7 917.7 465.9 911.6C470.2 905.4 473.9 896.9 477.2 888.9C480.5 880.9 482.9 872.4 485.7 863.4C488.6 854.5 491.4 846.0 494.2 835.1C497.1 824.2 499.9 809.1 502.7 798.3C505.6 787.4 508.9 778.9 511.2 770.0C513.6 761.0 514.5 753.9 516.9 744.5C519.3 735.0 523.0 723.2 525.4 713.3C527.8 703.4 528.7 693.5 531.1 685.0C533.4 676.5 536.7 670.8 539.6 662.3C542.4 653.8 544.3 643.0 548.1 634.0C551.8 625.0 558.4 614.2 562.2 608.5C566.0 602.8 568.0 603.0 570.7 600.0C573.4 597.0 574.7 593.4 578.3 590.4C581.9 587.3 587.7 584.2 592.4 581.9C597.2 579.5 602.4 577.4 606.6 576.2C610.8 575.0 614.2 574.8 617.9 574.8C621.7 574.8 625.5 575.0 629.3 576.2C633.0 577.4 637.8 579.5 640.6 581.9C643.4 584.2 643.3 586.5 646.3 590.4C649.2 594.3 653.3 598.8 658.1 605.3C662.9 611.8 668.7 623.3 675.1 629.4C681.4 635.5 690.9 641.0 696.3 642.1C701.7 643.3 703.9 639.8 707.6 636.5C711.4 633.2 712.2 632.8 719.0 622.3C725.7 611.8 740.5 585.8 748.2 573.4C755.9 561.0 759.6 554.5 765.2 547.9C770.9 541.3 777.0 535.6 782.2 533.7C787.4 531.8 791.7 534.7 796.4 536.6C801.1 538.4 806.6 543.2 810.5 545.0C814.5 546.9 817.0 543.2 820.0 547.9C823.0 552.6 825.7 565.3 828.5 573.4C831.3 581.4 834.0 587.4 837.0 596.0C840.0 604.7 843.4 615.6 846.4 625.1C849.4 634.7 852.1 643.6 854.9 653.5C857.8 663.4 860.6 674.2 863.4 684.6C866.3 695.0 869.3 705.9 871.9 715.8C874.5 725.7 876.6 734.7 879.0 744.1C881.4 753.6 883.5 763.5 886.1 772.4C888.7 781.4 891.3 789.4 894.6 797.9C897.9 806.4 902.6 817.3 905.9 823.4C909.2 829.6 911.1 831.0 914.4 834.8C917.7 838.5 921.5 842.8 925.7 846.1C930.0 849.4 935.2 851.5 939.9 854.6C944.6 857.6 948.9 859.8 954.1 864.5C959.3 869.2 966.3 876.1 971.1 882.9C975.8 889.8 978.1 898.0 982.4 905.6C986.6 913.1 992.3 922.6 996.6 928.2C1000.8 933.9 1003.6 934.8 1007.9 939.6C1012.1 944.3 1017.8 951.4 1022.0 956.6C1026.3 961.7 1029.6 966.5 1033.4 970.7C1037.2 975.0 1040.9 978.3 1044.7 982.0C1048.5 985.8 1053.5 991.5 1056.0 993.4C1058.6 995.3 1058.4 991.0 1060.0 993.4C1061.6 995.7 1063.3 1003.8 1065.7 1007.5C1068.0 1011.3 1072.3 1013.5 1074.2 1016.0C1076.1 1018.6 1073.2 1017.3 1077.0 1022.7C1080.8 1028.0 1090.2 1041.1 1096.8 1048.2C1103.4 1055.2 1110.0 1059.5 1116.7 1065.1C1123.3 1070.8 1129.9 1075.1 1136.5 1082.1C1143.1 1089.2 1150.6 1099.1 1156.3 1107.6C1162.0 1116.1 1165.7 1125.6 1170.5 1133.1C1175.2 1140.7 1179.9 1147.8 1184.6 1153.0C1189.4 1158.1 1193.6 1161.7 1198.8 1164.3C1204.0 1166.9 1210.1 1168.5 1215.8 1168.5C1221.5 1168.5 1227.1 1166.4 1232.8 1164.3C1238.4 1162.2 1244.1 1159.1 1249.8 1155.8C1255.4 1152.5 1261.1 1148.7 1266.8 1144.5C1272.4 1140.2 1278.1 1134.1 1283.8 1130.3C1289.4 1126.5 1295.1 1123.5 1300.8 1121.8C1306.4 1120.1 1312.1 1119.7 1317.8 1120.4C1323.4 1121.1 1329.1 1123.9 1334.8 1126.0C1340.4 1128.2 1346.1 1131.9 1351.7 1133.1C1357.4 1134.3 1363.1 1134.5 1368.7 1133.1C1374.4 1131.7 1380.5 1127.9 1385.7 1124.6C1390.9 1121.3 1395.2 1117.5 1399.9 1113.3C1404.6 1109.1 1409.3 1103.9 1414.1 1099.1C1418.8 1094.4 1423.5 1089.7 1428.2 1085.0C1432.9 1080.3 1437.2 1075.1 1442.4 1070.8C1447.6 1066.6 1453.7 1063.3 1459.4 1059.5C1465.0 1055.7 1470.7 1052.4 1476.4 1048.2C1482.0 1043.9 1487.7 1038.2 1493.4 1034.0C1499.0 1029.7 1505.0 1026.1 1510.4 1022.7C1515.7 1019.2 1518.7 1018.6 1525.5 1013.2C1532.3 1007.8 1543.0 997.6 1551.0 990.5C1559.0 983.5 1566.1 976.9 1573.6 970.7C1581.2 964.6 1588.8 959.9 1596.3 953.7C1603.9 947.6 1611.4 941.0 1619.0 933.9C1626.5 926.8 1634.1 918.8 1641.6 911.2C1649.2 903.7 1657.7 894.7 1664.3 888.6C1670.9 882.4 1674.7 877.7 1681.3 874.4C1687.9 871.1 1695.0 869.0 1703.9 868.7C1712.9 868.5 1725.7 872.6 1735.1 873.0C1744.5 873.4 1751.1 872.8 1760.6 871.0C1770.0 869.3 1782.3 866.0 1791.7 862.5C1801.2 859.1 1808.7 855.0 1817.2 850.3C1825.7 845.7 1834.2 839.5 1842.7 834.8C1851.2 830.0 1859.3 825.7 1868.2 822.0C1877.2 818.3 1887.1 814.4 1896.6 812.7C1906.0 810.9 1915.4 811.4 1924.9 811.5C1934.3 811.7 1945.2 813.3 1953.2 813.5C1961.2 813.8 1965.6 813.2 1972.7 813.0C1979.7 812.8 1987.8 812.5 1995.3 812.4C2002.9 812.3 2010.4 812.2 2018.0 812.4C2025.5 812.6 2033.1 812.8 2040.6 813.6C2048.2 814.4 2056.2 815.4 2063.3 817.2C2070.4 819.0 2077.0 822.0 2083.1 824.3C2089.3 826.7 2094.0 829.0 2100.1 831.4C2106.3 833.8 2113.8 836.6 2120.0 838.5C2126.1 840.4 2131.3 841.6 2136.9 842.7C2142.6 843.8 2147.3 844.4 2153.9 845.0C2160.6 845.6 2169.0 845.9 2176.6 846.1C2184.2 846.3 2191.7 846.0 2199.3 846.1C2206.8 846.3 2215.3 846.4 2221.9 847.0C2228.5 847.6 2233.3 847.9 2238.9 849.8C2244.6 851.7 2250.2 855.2 2255.9 858.3C2261.6 861.4 2267.2 865.2 2272.9 868.2C2278.6 871.3 2284.2 873.9 2289.9 876.7C2295.6 879.6 2300.8 882.6 2306.9 885.2C2313.0 887.8 2320.1 889.7 2326.7 892.3C2333.3 894.9 2340.4 898.0 2346.6 900.8C2352.7 903.6 2357.9 906.5 2363.5 909.3C2369.2 912.1 2375.3 915.2 2380.5 917.8C2385.7 920.4 2390.1 922.7 2394.7 924.9C2399.3 927.1 2405.8 930.1 2408.0 931.1" stroke="#77AC30" stroke-dasharray="14 14"/>
<path d="M164.5 1501.9C168.5 1500.5 180.6 1496.7 188.3 1493.4C196.1 1490.1 204.4 1487.2 211.0 1482.0C217.6 1476.9 222.3 1469.8 228.0 1462.2C233.6 1454.7 238.4 1445.7 245.0 1436.7C251.6 1427.8 260.6 1416.9 267.6 1408.4C274.7 1399.9 281.8 1391.9 287.5 1385.7C293.1 1379.6 296.4 1377.7 301.6 1371.6C306.8 1365.4 313.0 1357.4 318.6 1348.9C324.3 1340.4 329.0 1332.9 335.6 1320.6C342.2 1308.3 350.7 1291.8 358.3 1275.3C365.8 1258.7 373.9 1238.0 380.9 1221.5C388.0 1204.9 394.2 1192.2 400.8 1176.1C407.4 1160.1 414.5 1141.7 420.6 1125.1C426.7 1108.6 433.8 1087.9 437.6 1077.0C441.4 1066.1 439.9 1070.6 443.3 1060.0C446.6 1049.4 451.7 1031.2 457.4 1013.5C463.1 995.9 470.2 971.1 477.2 954.1C484.3 937.1 492.3 924.8 499.9 911.6C507.5 898.4 516.9 884.7 522.6 874.8C528.2 864.8 529.2 862.5 533.9 852.1C538.6 841.7 546.2 825.2 550.9 812.4C555.6 799.7 559.6 784.4 562.2 775.6C564.8 766.9 564.4 766.7 566.6 759.9C568.9 753.2 572.6 743.7 575.5 735.1C578.5 726.6 581.4 716.7 584.4 708.5C587.3 700.4 590.3 692.7 593.2 686.4C596.2 680.1 599.5 675.3 602.1 670.9C604.7 666.4 606.5 663.8 608.8 659.8C611.0 655.7 612.8 651.3 615.4 646.5C618.0 641.7 620.0 638.7 624.3 631.0C628.6 623.2 634.8 613.9 641.1 599.9C647.4 586.0 655.0 564.5 662.2 547.4C669.4 530.4 676.9 513.1 684.3 497.6C691.7 482.0 701.7 463.9 706.5 454.3C711.2 444.8 709.8 446.9 712.8 440.0C715.8 433.1 721.0 420.8 724.6 413.0C728.2 405.2 731.2 399.7 734.5 393.3C737.8 386.9 741.1 379.3 744.3 374.6C747.6 369.8 750.9 368.2 754.2 364.7C757.5 361.3 759.9 356.8 764.0 353.9C768.1 350.9 773.9 349.3 778.8 347.0C783.7 344.7 789.5 341.7 793.6 340.1C797.7 338.5 799.7 337.4 803.4 337.1C807.2 336.9 813.0 338.3 816.3 338.6C819.5 338.9 819.5 339.2 823.2 339.1C826.8 339.0 831.8 338.5 837.9 338.1C844.1 337.8 854.3 337.4 860.0 337.1C865.7 336.9 867.3 338.6 872.4 336.9C877.5 335.2 886.2 328.7 890.8 326.9C895.4 325.2 896.8 326.7 900.0 326.1C903.2 325.6 905.3 323.6 909.9 323.6C914.4 323.7 922.7 324.0 927.6 326.6C932.5 329.2 936.1 335.6 939.4 339.4C942.7 343.2 944.7 344.7 947.3 349.3C949.9 353.9 952.4 360.8 955.2 367.0C958.0 373.2 960.9 379.8 964.0 386.7C967.2 393.6 970.6 401.3 973.9 408.4C977.2 415.4 980.5 422.5 983.7 429.1C987.0 435.6 988.7 436.9 993.6 447.8C998.5 458.7 1008.1 483.2 1013.2 494.3C1018.4 505.4 1020.6 507.8 1024.3 514.3C1028.0 520.7 1032.1 526.8 1035.4 533.1C1038.7 539.4 1041.5 545.8 1044.3 551.9C1047.0 558.0 1049.4 563.6 1052.0 569.7C1054.6 575.8 1057.9 583.4 1059.8 588.5C1061.6 593.6 1060.5 592.4 1063.0 600.0C1065.5 607.6 1070.8 623.4 1074.8 634.0C1078.7 644.6 1082.7 653.4 1086.6 663.5C1090.5 673.6 1094.5 684.0 1098.4 694.5C1102.3 705.1 1106.3 716.7 1110.2 727.0C1114.2 737.4 1118.1 747.5 1122.0 756.6C1126.0 765.7 1129.9 773.6 1133.9 781.7C1137.8 789.8 1140.5 794.8 1145.7 805.3C1150.8 815.9 1159.7 835.5 1164.8 845.1C1169.9 854.7 1170.9 853.9 1176.1 863.1C1181.3 872.2 1189.8 889.5 1196.0 899.9C1202.1 910.3 1207.3 916.9 1213.0 925.4C1218.6 933.9 1224.8 942.4 1230.0 950.9C1235.1 959.4 1239.4 967.4 1244.1 976.4C1248.8 985.3 1253.1 994.2 1258.3 1004.7C1263.5 1015.3 1270.6 1031.0 1275.3 1039.7C1280.0 1048.3 1281.9 1050.7 1286.6 1056.7C1291.3 1062.6 1297.9 1071.3 1303.6 1075.1C1309.3 1078.8 1314.9 1078.8 1320.6 1079.3C1326.3 1079.8 1331.4 1078.8 1337.6 1077.9C1343.7 1076.9 1350.8 1074.0 1357.4 1073.6C1364.0 1073.3 1371.1 1075.3 1377.2 1075.9C1383.4 1076.5 1388.6 1077.0 1394.2 1077.0C1399.9 1077.0 1405.6 1075.9 1411.2 1075.9C1416.9 1075.9 1423.0 1077.0 1428.2 1077.0C1433.4 1077.0 1436.7 1076.7 1442.4 1075.9C1448.1 1075.1 1455.1 1074.7 1462.2 1072.2C1469.3 1069.7 1478.3 1065.9 1484.9 1060.9C1491.5 1055.9 1492.7 1051.4 1501.9 1042.5C1511.0 1033.6 1530.5 1016.0 1539.7 1007.5C1548.8 999.1 1551.0 996.2 1556.7 992.0C1562.3 987.7 1568.0 985.6 1573.6 982.0C1579.3 978.5 1585.0 975.0 1590.6 970.7C1596.3 966.5 1602.0 962.7 1607.6 956.6C1613.3 950.4 1619.0 941.9 1624.6 933.9C1630.3 925.9 1636.0 915.5 1641.6 908.4C1647.3 901.3 1652.0 897.1 1658.6 891.4C1665.2 885.7 1674.7 880.3 1681.3 874.4C1687.9 868.5 1692.6 863.6 1698.3 856.0C1703.9 848.4 1709.6 839.2 1715.3 829.1C1720.9 818.9 1726.1 804.8 1732.3 795.1C1738.4 785.4 1746.0 777.4 1752.1 771.0C1758.2 764.6 1763.0 761.8 1769.1 756.9C1775.2 751.9 1782.8 746.9 1788.9 741.3C1795.1 735.6 1800.2 729.5 1805.9 722.9C1811.6 716.3 1816.8 707.8 1822.9 701.6C1829.0 695.5 1836.6 689.3 1842.7 686.0C1848.9 682.8 1854.1 682.8 1859.7 682.4C1865.4 681.9 1870.6 683.1 1876.7 683.2C1882.9 683.4 1890.4 684.6 1896.6 683.2C1902.7 681.8 1907.9 678.7 1913.5 674.7C1919.2 670.7 1925.3 664.1 1930.5 659.1C1935.7 654.2 1938.2 650.7 1944.7 645.0C1951.3 639.2 1962.8 629.1 1969.8 624.6C1976.8 620.2 1981.2 619.1 1986.8 618.4C1992.5 617.7 1998.2 618.4 2003.8 620.4C2009.5 622.4 2015.1 627.0 2020.8 630.3C2026.5 633.6 2031.7 637.1 2037.8 640.2C2043.9 643.3 2051.0 646.9 2057.6 648.7C2064.2 650.5 2070.9 651.0 2077.5 651.0C2084.1 651.0 2090.2 650.0 2097.3 648.7C2104.4 647.4 2112.4 645.6 2120.0 643.0C2127.5 640.4 2135.1 636.7 2142.6 633.1C2150.2 629.6 2158.7 624.3 2165.3 621.8C2171.9 619.3 2176.6 617.5 2182.3 618.4C2187.9 619.3 2193.6 623.1 2199.3 627.5C2204.9 631.8 2210.6 638.8 2216.3 644.5C2221.9 650.1 2227.1 657.5 2233.3 661.5C2239.4 665.4 2246.5 667.5 2253.1 668.0C2259.7 668.4 2266.3 665.6 2272.9 664.3C2279.5 663.0 2286.6 660.4 2292.7 660.0C2298.9 659.7 2304.1 660.4 2309.7 662.0C2315.4 663.7 2320.6 666.7 2326.7 670.0C2332.9 673.2 2339.9 677.6 2346.6 681.3C2353.2 685.0 2359.8 688.7 2366.4 692.0C2373.0 695.3 2379.3 698.7 2386.2 701.1C2393.1 703.6 2404.4 705.8 2408.0 706.8" stroke="#A2142F"/>
<path d="M164.5 1507.5C166.6 1508.0 171.6 1510.4 177.0 1510.4C182.4 1510.4 191.6 1509.4 196.8 1507.5C202.0 1505.6 204.8 1502.8 208.2 1499.0C211.5 1495.3 212.9 1492.4 216.7 1484.9C220.4 1477.3 226.1 1466.0 230.8 1453.7C235.5 1441.4 240.7 1424.0 245.0 1411.2C249.2 1398.5 252.5 1388.1 256.3 1377.2C260.1 1366.4 263.9 1356.5 267.6 1346.1C271.4 1335.7 274.7 1324.8 279.0 1314.9C283.2 1305.0 288.4 1295.1 293.1 1286.6C297.8 1278.1 302.6 1271.5 307.3 1263.9C312.0 1256.4 316.7 1249.3 321.5 1241.3C326.2 1233.3 331.4 1224.8 335.6 1215.8C339.9 1206.8 343.2 1196.4 346.9 1187.5C350.7 1178.5 354.5 1170.5 358.3 1162.0C362.1 1153.5 365.8 1145.2 369.6 1136.5C373.4 1127.7 377.2 1119.5 380.9 1109.6C384.7 1099.7 389.4 1085.3 392.3 1077.0C395.1 1068.7 395.1 1067.7 397.9 1060.0C400.8 1052.3 405.5 1040.6 409.3 1030.5C413.0 1020.4 416.8 1009.8 420.6 999.4C424.4 989.0 428.1 977.7 431.9 968.2C435.7 958.8 439.5 951.7 443.3 942.7C447.0 933.8 450.8 923.4 454.6 914.4C458.4 905.4 462.1 897.9 465.9 888.9C469.7 879.9 473.5 870.0 477.2 860.6C481.0 851.1 484.8 841.2 488.6 832.3C492.3 823.3 496.1 814.3 499.9 806.8C503.7 799.2 507.0 791.9 511.2 786.9C515.5 782.0 520.2 779.6 525.4 777.0C530.6 774.4 537.2 772.5 542.4 771.4C547.6 770.2 552.3 771.1 556.6 770.0C560.8 768.8 563.6 769.5 567.9 764.3C572.1 759.0 578.3 747.4 582.2 738.4C586.0 729.5 588.4 720.2 591.0 710.7C593.6 701.3 595.5 691.5 597.7 681.9C599.9 672.3 602.5 662.7 604.3 653.1C606.2 643.5 607.2 633.9 608.8 624.3C610.3 614.7 612.2 605.4 613.7 595.5C615.3 585.6 616.3 574.7 617.9 564.9C619.6 555.1 621.7 546.9 623.6 536.6C625.5 526.2 627.4 513.4 629.3 502.6C631.1 491.7 633.3 480.8 634.9 471.4C636.6 462.0 637.8 454.4 639.2 445.9C640.6 437.4 641.8 429.9 643.4 420.4C645.1 411.0 647.2 399.6 649.1 389.3C651.0 378.9 652.9 367.1 654.8 358.1C656.6 349.1 658.1 344.4 660.4 335.4C662.8 326.5 666.1 314.2 668.9 304.3C671.7 294.4 674.1 284.5 677.4 276.0C680.7 267.5 685.0 259.0 688.7 253.3C692.5 247.6 696.3 244.3 700.1 242.0C703.9 239.6 708.1 238.7 711.4 239.1C714.7 239.6 716.1 240.6 719.9 244.8C723.7 249.1 729.3 258.0 734.1 264.6C738.8 271.2 744.0 277.8 748.2 284.5C752.5 291.1 755.8 298.1 759.6 304.3C763.3 310.4 767.1 316.6 770.9 321.3C774.7 326.0 778.4 330.0 782.2 332.6C786.0 335.2 789.8 336.2 793.5 336.9C797.3 337.6 801.1 338.0 804.9 336.9C808.7 335.7 812.7 333.3 816.2 329.8C819.7 326.2 821.7 322.7 825.7 315.6C829.6 308.5 835.6 296.3 839.8 287.3C844.1 278.3 847.4 270.3 851.2 261.8C854.9 253.3 858.2 244.3 862.5 236.3C866.7 228.3 872.4 219.5 876.7 213.6C880.9 207.7 884.4 203.0 888.0 200.9C891.5 198.8 894.6 199.7 897.9 200.9C901.2 202.1 904.3 204.0 907.8 208.0C911.3 212.0 915.8 218.8 919.1 225.0C922.4 231.1 924.8 238.2 927.6 244.8C930.5 251.4 933.3 257.5 936.1 264.6C939.0 271.7 941.8 279.3 944.6 287.3C947.5 295.3 950.3 303.8 953.1 312.8C956.0 321.8 959.0 332.1 961.6 341.1C964.2 350.1 966.3 357.6 968.7 366.6C971.1 375.6 973.4 386.0 975.8 394.9C978.1 403.9 980.5 411.4 982.9 420.4C985.2 429.4 987.6 438.8 990.0 448.7C992.3 458.7 994.7 470.0 997.0 479.9C999.4 489.8 1001.5 498.8 1004.1 508.2C1006.7 517.7 1009.8 528.1 1012.6 536.6C1015.4 545.0 1018.3 552.6 1021.1 559.2C1023.9 565.8 1026.8 571.0 1029.6 576.2C1032.4 581.4 1033.7 583.6 1038.1 590.4C1042.5 597.1 1052.4 612.3 1056.0 616.7C1059.7 621.0 1057.0 613.8 1060.0 616.7C1063.0 619.5 1069.4 626.1 1074.2 633.6C1078.9 641.2 1084.5 653.0 1088.3 662.0C1092.1 670.9 1093.5 678.5 1096.8 687.5C1100.1 696.4 1104.4 705.9 1108.2 715.8C1111.9 725.7 1115.7 738.0 1119.5 746.9C1123.3 755.9 1125.6 761.6 1130.8 769.6C1136.0 777.6 1143.6 788.0 1150.6 795.1C1157.7 802.2 1166.2 805.5 1173.3 812.1C1180.4 818.7 1187.0 826.7 1193.1 834.8C1199.3 842.8 1204.9 851.3 1210.1 860.2C1215.3 869.2 1219.6 879.6 1224.3 888.6C1229.0 897.5 1233.7 905.6 1238.4 914.1C1243.2 922.6 1247.4 931.5 1252.6 939.6C1257.8 947.6 1263.5 955.1 1269.6 962.2C1275.7 969.3 1282.4 975.4 1289.4 982.0C1296.5 988.7 1305.0 996.4 1312.1 1001.9C1319.2 1007.3 1326.3 1011.8 1331.9 1014.6C1337.6 1017.5 1341.8 1017.8 1346.1 1018.9C1350.3 1020.0 1354.6 1021.7 1357.4 1021.2C1360.2 1020.8 1358.4 1018.3 1363.1 1016.0C1367.8 1013.8 1379.6 1010.4 1385.7 1007.5C1391.9 1004.7 1394.7 1001.2 1399.9 999.0C1405.1 996.9 1412.2 995.4 1416.9 994.8C1421.6 994.2 1423.5 994.9 1428.2 995.4C1432.9 995.8 1440.5 996.8 1445.2 997.6C1449.9 998.5 1451.8 1000.0 1456.6 1000.5C1461.3 1000.9 1467.9 1001.9 1473.5 1000.5C1479.2 999.0 1485.3 996.0 1490.5 992.0C1495.7 987.9 1497.9 983.7 1504.7 976.4C1511.5 969.1 1523.0 956.6 1531.2 948.1C1539.3 939.6 1545.8 931.5 1553.8 925.4C1561.8 919.3 1571.3 916.4 1579.3 911.2C1587.3 906.0 1594.9 900.8 1602.0 894.2C1609.1 887.6 1615.7 879.1 1621.8 871.6C1627.9 864.0 1633.1 856.5 1638.8 848.9C1644.5 841.4 1649.7 833.8 1655.8 826.3C1661.9 818.7 1669.0 810.7 1675.6 803.6C1682.2 796.5 1688.8 790.4 1695.4 783.8C1702.1 777.2 1708.7 771.0 1715.3 763.9C1721.9 756.9 1728.5 748.4 1735.1 741.3C1741.7 734.2 1747.8 727.6 1754.9 721.5C1762.0 715.3 1769.1 709.9 1777.6 704.5C1786.1 699.0 1797.4 693.8 1805.9 688.9C1814.4 683.9 1821.0 679.7 1828.6 674.7C1836.1 669.8 1844.2 663.6 1851.2 659.1C1858.3 654.7 1865.9 650.2 1871.1 647.8C1876.3 645.4 1877.2 646.2 1882.4 645.0C1887.6 643.8 1897.0 642.1 1902.2 640.7C1907.4 639.3 1908.8 639.1 1913.5 636.5C1918.3 633.9 1924.9 629.6 1930.5 625.1C1936.2 620.7 1942.4 613.9 1947.5 609.6C1952.7 605.2 1956.7 600.9 1961.3 599.1C1966.0 597.4 1970.8 598.0 1975.5 599.1C1980.2 600.3 1984.5 603.4 1989.7 606.2C1994.8 609.1 2001.0 613.5 2006.7 616.1C2012.3 618.7 2018.5 621.8 2023.6 621.8C2028.8 621.8 2033.1 619.4 2037.8 616.1C2042.5 612.8 2046.8 607.6 2052.0 602.0C2057.2 596.3 2063.3 587.6 2069.0 582.1C2074.6 576.7 2080.3 572.3 2086.0 569.4C2091.6 566.5 2097.3 564.8 2103.0 564.6C2108.6 564.3 2114.8 566.2 2120.0 568.0C2125.1 569.7 2129.4 571.8 2134.1 575.1C2138.8 578.4 2143.6 582.9 2148.3 587.8C2153.0 592.8 2157.7 599.6 2162.4 604.8C2167.2 610.0 2171.9 615.0 2176.6 619.0C2181.3 623.0 2186.0 626.5 2190.8 628.9C2195.5 631.2 2199.7 632.5 2204.9 633.1C2210.1 633.7 2216.3 633.3 2221.9 632.6C2227.6 631.9 2233.3 630.2 2238.9 628.9C2244.6 627.6 2249.8 625.7 2255.9 624.6C2262.0 623.5 2268.7 622.7 2275.7 622.4C2282.8 622.0 2291.3 621.5 2298.4 622.4C2305.5 623.2 2312.1 625.7 2318.2 627.5C2324.4 629.3 2329.6 630.3 2335.2 633.1C2340.9 636.0 2346.6 640.7 2352.2 644.5C2357.9 648.2 2363.5 652.5 2369.2 655.8C2374.9 659.1 2381.0 661.7 2386.2 664.3C2391.4 666.9 2396.7 669.5 2400.4 671.4C2404.0 673.3 2406.7 674.9 2408.0 675.6" stroke="#A3390E" stroke-dasharray="14 14"/>
</g>
<g font-family="Liberation Sans, Arial, Helvetica, sans-serif" fill="#262626" stroke="#fff" stroke-width="0.7"><text transform="translate(164.50,1651.5) scale(0.94,1)" text-anchor="middle" font-size="56.5">0.5</text><text transform="translate(388.85,1651.5) scale(0.94,1)" text-anchor="middle" font-size="56.5">1</text><text transform="translate(613.20,1651.5) scale(0.94,1)" text-anchor="middle" font-size="56.5">1.5</text><text transform="translate(837.55,1651.5) scale(0.94,1)" text-anchor="middle" font-size="56.5">2</text><text transform="translate(1061.90,1651.5) scale(0.94,1)" text-anchor="middle" font-size="56.5">2.5</text><text transform="translate(1286.25,1651.5) scale(0.94,1)" text-anchor="middle" font-size="56.5">3</text><text transform="translate(1510.60,1651.5) scale(0.94,1)" text-anchor="middle" font-size="56.5">3.5</text><text transform="translate(1734.95,1651.5) scale(0.94,1)" text-anchor="middle" font-size="56.5">4</text><text transform="translate(1959.30,1651.5) scale(0.94,1)" text-anchor="middle" font-size="56.5">4.5</text><text transform="translate(2183.65,1651.5) scale(0.94,1)" text-anchor="middle" font-size="56.5">5</text><text transform="translate(2408.00,1651.5) scale(0.94,1)" text-anchor="middle" font-size="56.5">5.5</text><text transform="translate(148,1515.86) scale(0.94,1)" text-anchor="end" font-size="56.5">0</text><text transform="translate(148,1308.03) scale(0.94,1)" text-anchor="end" font-size="56.5">5</text><text transform="translate(148,1100.19) scale(0.94,1)" text-anchor="end" font-size="56.5">10</text><text transform="translate(148,892.35) scale(0.94,1)" text-anchor="end" font-size="56.5">15</text><text transform="translate(148,684.51) scale(0.94,1)" text-anchor="end" font-size="56.5">20</text><text transform="translate(148,476.68) scale(0.94,1)" text-anchor="end" font-size="56.5">25</text><text transform="translate(148,268.84) scale(0.94,1)" text-anchor="end" font-size="56.5">30</text><text transform="translate(148,61.00) scale(0.94,1)" text-anchor="end" font-size="56.5">35</text></g>
<g font-family="Liberation Sans, Arial, Helvetica, sans-serif" fill="#262626" stroke="#fff" stroke-width="0.7"><text transform="translate(1286.2,1730) scale(0.955,1)" text-anchor="middle" font-size="63">Time (ns)</text><text transform="translate(67.4,808) rotate(-90)" text-anchor="middle" font-size="61">Current (A)</text></g>
<g font-family="Liberation Sans, Arial, Helvetica, sans-serif"><path d="M1655 70.60H1745" stroke="#0072BD" stroke-width="3" fill="none"/><text transform="translate(1751,89.60) scale(0.943,1)" font-size="51" fill="#000" stroke="#fff" stroke-width="0.9">Reconstructed waveform: 2kV</text><path d="M1655 135.00H1745" stroke="#0072BD" stroke-width="3" stroke-dasharray="14 14" fill="none"/><text transform="translate(1751,154.20) scale(0.943,1)" font-size="51" fill="#000" stroke="#fff" stroke-width="0.9">Reference waveform: 2kV</text><path d="M1655 199.40H1745" stroke="#EDB120" stroke-width="3" fill="none"/><text transform="translate(1751,218.80) scale(0.943,1)" font-size="51" fill="#000" stroke="#fff" stroke-width="0.9">Reconstructed waveform: 4kV</text><path d="M1655 263.80H1745" stroke="#EDB120" stroke-width="3" stroke-dasharray="14 14" fill="none"/><text transform="translate(1751,283.40) scale(0.943,1)" font-size="51" fill="#000" stroke="#fff" stroke-width="0.9">Reference waveform: 4kV</text><path d="M1655 328.20H1745" stroke="#77AC30" stroke-width="3" fill="none"/><text transform="translate(1751,348.00) scale(0.943,1)" font-size="51" fill="#000" stroke="#fff" stroke-width="0.9">Reconstructed waveform: 6kV</text><path d="M1655 392.60H1745" stroke="#77AC30" stroke-width="3" stroke-dasharray="14 14" fill="none"/><text transform="translate(1751,412.60) scale(0.943,1)" font-size="51" fill="#000" stroke="#fff" stroke-width="0.9">Reference waveform: 6kV</text><path d="M1655 457.00H1745" stroke="#A2142F" stroke-width="3" fill="none"/><text transform="translate(1751,477.20) scale(0.943,1)" font-size="51" fill="#000" stroke="#fff" stroke-width="0.9">Reconstructed waveform: 8kV</text><path d="M1655 521.40H1745" stroke="#A3390E" stroke-width="3" stroke-dasharray="14 14" fill="none"/><text transform="translate(1751,541.80) scale(0.943,1)" font-size="51" fill="#000" stroke="#fff" stroke-width="0.9">Reference waveform: 8kV</text></g>
</svg>
</body></html>
